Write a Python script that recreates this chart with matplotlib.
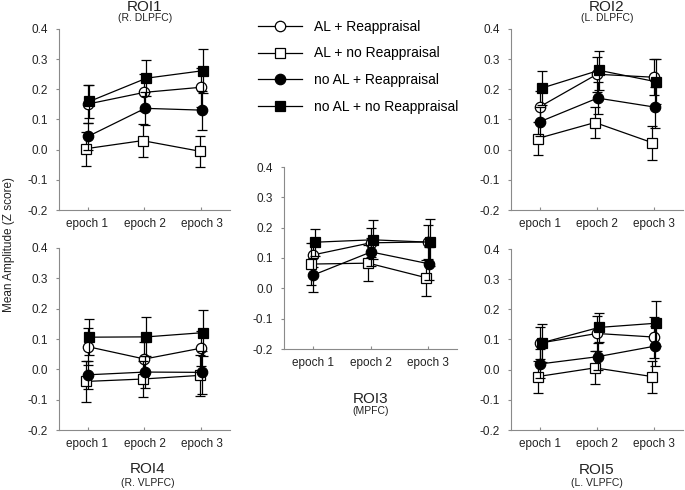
import numpy as np
import matplotlib
matplotlib.use('Agg')
import matplotlib.pyplot as plt

plt.rcParams['font.family'] = ['Liberation Sans', 'DejaVu Sans']
plt.rcParams['axes.unicode_minus'] = False

# data
epochs = ['epoch 1', 'epoch 2', 'epoch 3']
conditions = ['AL + Reappraisal', 'AL + no Reappraisal',
              'no AL + Reappraisal', 'no AL + no Reappraisal']

roi_names = ['ROI1', 'ROI2', 'ROI3', 'ROI4', 'ROI5']
roi_areas = ['(R. DLPFC)', '(L. DLPFC)', '(MPFC)', '(R. VLPFC)', '(L. VLPFC)']

# mean amplitude per ROI, one row per condition (order as in `conditions`)
roi1_mean = [[0.151, 0.190, 0.207],
             [0.003, 0.030, -0.005],
             [0.044, 0.137, 0.131],
             [0.160, 0.237, 0.262]]
roi1_err = [[0.062, 0.062, 0.065],
            [0.057, 0.055, 0.051],
            [0.045, 0.055, 0.065],
            [0.056, 0.060, 0.073]]

roi2_mean = [[0.142, 0.250, 0.240],
             [0.037, 0.090, 0.023],
             [0.093, 0.171, 0.141],
             [0.204, 0.263, 0.225]]
roi2_err = [[0.052, 0.058, 0.060],
            [0.056, 0.052, 0.057],
            [0.048, 0.052, 0.068],
            [0.057, 0.065, 0.075]]

roi3_mean = [[0.110, 0.150, 0.153],
             [0.080, 0.083, 0.035],
             [0.044, 0.120, 0.081],
             [0.152, 0.160, 0.152]]
roi3_err = [[0.040, 0.048, 0.055],
            [0.070, 0.060, 0.060],
            [0.055, 0.045, 0.055],
            [0.045, 0.064, 0.078]]

roi4_mean = [[0.075, 0.034, 0.070],
             [-0.040, -0.032, -0.020],
             [-0.018, -0.009, -0.010],
             [0.106, 0.107, 0.121]]
roi4_err = [[0.060, 0.055, 0.058],
            [0.069, 0.060, 0.068],
            [0.046, 0.052, 0.070],
            [0.060, 0.064, 0.076]]

roi5_mean = [[0.088, 0.120, 0.108],
             [-0.023, 0.006, -0.023],
             [0.019, 0.043, 0.078],
             [0.089, 0.140, 0.154]]
roi5_err = [[0.052, 0.058, 0.068],
            [0.053, 0.055, 0.053],
            [0.048, 0.045, 0.066],
            [0.062, 0.048, 0.075]]

roi_means = [roi1_mean, roi2_mean, roi3_mean, roi4_mean, roi5_mean]
roi_errs = [roi1_err, roi2_err, roi3_err, roi4_err, roi5_err]

# marker style per condition
markers = ['o', 's', 'o', 's']
facecolors = ['white', 'white', 'black', 'black']
msizes = [7.5, 6.5, 7.5, 6.5]
offsets = [0.0, -0.035, 0.01, 0.035]

W, H = 685, 490
fig = plt.figure(figsize=(W / 100, H / 100), dpi=100)


def px_box(left, top, right, bottom):
    return [left / W, 1 - bottom / H, (right - left) / W, (bottom - top) / H]


# axes boxes in pixels (left, top, right, bottom)
boxes = [(59, 29, 230, 210),
         (511, 29, 683, 210),
         (284, 167, 457, 349),
         (59, 248, 230, 430),
         (511, 249, 683, 430)]
# title centre positions in pixels: (x, y title, y subtitle)
title_pos = [(145, 7, 18),
             (607, 7, 18),
             (371, 399, 411),
             (148, 469, 483),
             (597, 470, 483)]

spine_col = '#8a8a8a'
text_col = '#222222'
x = np.arange(1, len(epochs) + 1)
legend_lines = None

for i in range(5):
    ax = fig.add_axes(px_box(*boxes[i]))
    lines = []
    for c in range(len(conditions)):
        xs = x + offsets[c]
        ax.errorbar(xs, roi_means[i][c], yerr=roi_errs[i][c], fmt='none',
                    ecolor='black', elinewidth=0.9, capsize=3.5, capthick=0.9,
                    zorder=2 + c)
        ln, = ax.plot(xs, roi_means[i][c], color='black', lw=0.9,
                      marker=markers[c], ms=msizes[c], mfc=facecolors[c],
                      mec='black', mew=0.9, zorder=3 + c, label=conditions[c])
        lines.append(ln)
    if legend_lines is None:
        legend_lines = lines

    ax.set_xlim(0.5, 3.5)
    ax.set_ylim(-0.2, 0.4)
    ax.set_xticks(x)
    ax.set_xticklabels(epochs)
    ax.set_yticks(np.arange(-0.2, 0.41, 0.1))
    ax.set_yticklabels(['%.1f' % v for v in np.arange(-0.2, 0.41, 0.1)])
    for s in ['top', 'right']:
        ax.spines[s].set_visible(False)
    for s in ['left', 'bottom']:
        ax.spines[s].set_color(spine_col)
        ax.spines[s].set_linewidth(0.8)
    ax.tick_params(axis='y', direction='out', length=2, pad=6, color=spine_col,
                   labelsize=8.5, labelcolor=text_col)
    ax.tick_params(axis='x', direction='in', length=2, pad=6, color=spine_col,
                   labelsize=8.5, labelcolor=text_col)
    ax.patch.set_alpha(0)

    tx, ty, sy = title_pos[i]
    fig.text(tx / W, 1 - ty / H, roi_names[i], ha='center', va='center',
             fontsize=11, color=text_col)
    fig.text(tx / W, 1 - sy / H, roi_areas[i], ha='center', va='center',
             fontsize=7.5, color=text_col)

fig.text(9 / W, 1 - 245 / H, 'Mean Amplitude (Z score)', rotation=90,
         ha='center', va='center', fontsize=8.5, color=text_col)

fig.legend(handles=legend_lines, labels=conditions, loc='upper left',
           bbox_to_anchor=(258 / W, 1 - 20 / H), frameon=False,
           fontsize=10, handlelength=3.2, handletextpad=0.8,
           labelspacing=0.9, borderpad=0, borderaxespad=0)

fig.savefig('out.png', dpi=100)
